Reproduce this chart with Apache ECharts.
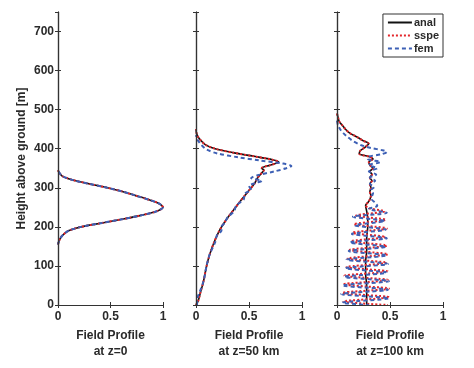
<!DOCTYPE html>
<html><head><meta charset="utf-8">
<script src="https://cdn.jsdelivr.net/npm/echarts@6/dist/echarts.min.js"></script>
<style>html,body{margin:0;padding:0;background:#fff}#c{width:474px;height:368px}</style>
</head><body><div id="c"></div>
<script>
// ---- data ----
const yTicks = [0,100,200,300,400,500,600,700];
const xTicks = [0,0.5,1];
const panelTitles = ['Field Profile\nat z=0','Field Profile\nat z=50 km','Field Profile\nat z=100 km'];
const seriesNames = ['anal','sspe','fem'];

// panel 1 (z=0)
const p1H    = [155,160,170,180,190,200,210,220,230,240,250,260,270,280,290,300,310,320,330,340,345];
const p1Anal = [0,0.005,0.02,0.05,0.1,0.22,0.42,0.62,0.8,0.94,1.0,0.96,0.86,0.74,0.62,0.47,0.3,0.14,0.04,0.01,0];
const p1Sspe = [0,0.005,0.02,0.05,0.1,0.22,0.42,0.62,0.8,0.94,1.0,0.96,0.86,0.74,0.62,0.47,0.3,0.14,0.04,0.01,0];
const p1Fem  = [0,0.005,0.02,0.05,0.1,0.22,0.42,0.62,0.8,0.94,1.0,0.96,0.86,0.74,0.62,0.47,0.3,0.14,0.04,0.01,0];

// panel 2 (z=50 km)
const p2H    = [0,10,30,60,100,130,160,190,220,245,270,290,310,325,338,345,350,358,366,372,380,390,400,410,420,430,440,450];
const p2Anal = [0,0.02,0.04,0.07,0.1,0.13,0.17,0.22,0.29,0.36,0.43,0.49,0.55,0.58,0.62,0.64,0.62,0.7,0.78,0.72,0.56,0.35,0.18,0.09,0.05,0.02,0.005,0];
const p2Sspe = [0,0.02,0.04,0.07,0.1,0.13,0.17,0.22,0.29,0.36,0.43,0.49,0.55,0.58,0.62,0.64,0.62,0.7,0.78,0.72,0.56,0.35,0.18,0.09,0.05,0.02,0.005,0];
const p2FemH = [0,15,30,60,100,130,160,180,190,200,210,225,240,255,270,285,295,305,312,318,325,332,342,350,356,362,370,378,388,398,410,425,435];
const p2Fem  = [0.01,0.01,0.03,0.07,0.1,0.13,0.18,0.2,0.24,0.24,0.27,0.3,0.36,0.38,0.45,0.46,0.52,0.5,0.56,0.62,0.52,0.58,0.74,0.85,0.9,0.82,0.6,0.4,0.2,0.1,0.05,0.01,0];

// panel 3 (z=100 km)
const p3AnalH = [490,480,470,460,450,440,430,420,413,405,395,387,380,374,366,358,350,342,334,326,318,310,300,290,280,270,262,255,240,220,200,170,140,110,80,50,20,0];
const p3Anal  = [0,0.01,0.02,0.05,0.08,0.12,0.19,0.25,0.3,0.27,0.22,0.21,0.3,0.34,0.3,0.31,0.34,0.31,0.33,0.31,0.33,0.31,0.32,0.31,0.32,0.31,0.29,0.27,0.28,0.29,0.29,0.28,0.28,0.27,0.27,0.28,0.28,0.28];
const p3SspeH = [490,480,470,460,450,440,430,420,413,405,395,387,380,374,366,358,350,342,334,326,318,310,300,290,280,270,262,255,248,240,229,218,207,196,185,174,163,152,141,130,119,108,97,86,75,64,53,42,31,20,9,0];
const p3Sspe  = [0,0.01,0.02,0.05,0.08,0.12,0.19,0.25,0.3,0.27,0.22,0.21,0.3,0.34,0.3,0.31,0.34,0.31,0.33,0.31,0.33,0.31,0.32,0.31,0.32,0.31,0.29,0.27,0.3,0.45,0.18,0.46,0.16,0.47,0.15,0.46,0.13,0.47,0.12,0.48,0.1,0.47,0.09,0.48,0.07,0.48,0.06,0.49,0.05,0.49,0.06,0.48];
const p3FemH  = [472,460,450,440,430,420,410,402,396,392,386,380,374,366,358,350,342,334,326,318,310,302,294,286,278,270,262,254,246,236,226,215,204,193,182,171,160,149,138,127,116,105,94,83,72,61,50,39,28,17,6,0];
const p3Fem   = [0,0.01,0.03,0.06,0.1,0.15,0.22,0.32,0.43,0.47,0.42,0.3,0.29,0.41,0.3,0.38,0.3,0.37,0.31,0.36,0.31,0.35,0.32,0.34,0.33,0.33,0.36,0.38,0.3,0.47,0.15,0.45,0.17,0.46,0.14,0.47,0.12,0.46,0.11,0.47,0.09,0.48,0.08,0.47,0.07,0.49,0.05,0.48,0.04,0.49,0.05,0.3];

// ---- build ----
const zip = (h, v) => h.map((y, i) => [v[i], y]);
const panels = [
  [zip(p1H,p1Anal), zip(p1H,p1Sspe), zip(p1H,p1Fem)],
  [zip(p2H,p2Anal), zip(p2H,p2Sspe), zip(p2FemH,p2Fem)],
  [zip(p3AnalH,p3Anal), zip(p3SspeH,p3Sspe), zip(p3FemH,p3Fem)]
];
const TXT = '#2a2a2a';
const FONT = 'Liberation Sans, Arial, sans-serif';
const grids = [
  {left:58, top:12, width:105, height:293},
  {left:196, top:12, width:106, height:293},
  {left:337, top:12, width:106, height:293}
];
const axisLine = {show:true, lineStyle:{color:'#333', width:1.2}};
const xAxes = [], yAxes = [], series = [];
const styles = [
  {color:'#111', width:1.6, type:'solid'},
  {color:'#e3262b', width:2, type:[2,2]},
  {color:'#3d60b5', width:2, type:[4,3]}
];
grids.forEach((g, i) => {
  xAxes.push({type:'value', gridIndex:i, min:xTicks[0], max:xTicks[xTicks.length-1], interval:0.5, position:'bottom', z:10,
    axisLine, axisTick:{inside:true, length:3, lineStyle:{color:'#333'}}, splitLine:{show:false},
    axisLabel:{color:TXT, fontSize:12, fontWeight:'bold', fontFamily:FONT, margin:6,
      formatter: v => String(v)},
    name: panelTitles[i], nameLocation:'middle', nameGap:17,
    nameTextStyle:{color:TXT, fontSize:12, fontWeight:'bold', fontFamily:FONT, lineHeight:16}
  });
  xAxes.push({type:'value', gridIndex:i, min:0, max:1, interval:0.5, position:'top', z:10,
    axisLine, axisTick:{inside:true, length:3, lineStyle:{color:'#333'}}, axisLabel:{show:false}, splitLine:{show:false}});
  yAxes.push({type:'value', gridIndex:i, min:0, max:750, interval:100, position:'left', z:10,
    axisLine, axisTick:{inside:true, length:3, lineStyle:{color:'#333'}}, splitLine:{show:false},
    axisLabel:{show:i===0, showMaxLabel:false, color:TXT, fontSize:12, fontWeight:'bold', fontFamily:FONT, margin:4},
    name: i===0 ? 'Height above ground [m]' : '', nameLocation:'middle', nameGap:30,
    nameTextStyle:{color:TXT, fontSize:12, fontWeight:'bold', fontFamily:FONT}
  });
  yAxes.push({type:'value', gridIndex:i, min:0, max:750, interval:100, position:'right', z:10,
    axisLine, axisTick:{inside:true, length:3, lineStyle:{color:'#333'}}, axisLabel:{show:false}, splitLine:{show:false}});
  panels[i].forEach((d, k) => {
    series.push({name:seriesNames[k], type:'line', xAxisIndex:2*i, yAxisIndex:2*i, data:d,
      symbol:'none', smooth:0.3, lineStyle:styles[k], itemStyle:{color:styles[k].color}, z:2+k});
  });
});
const chart = echarts.init(document.getElementById('c'), null, {renderer:'canvas'});
chart.setOption({
  animation:false,
  backgroundColor:'#fff',
  grid: grids,
  xAxis: xAxes,
  yAxis: yAxes,
  legend:{data:seriesNames, orient:'vertical', right:31, top:14, itemWidth:24, itemHeight:8, itemGap:2,
    padding:[3,4,3,4], borderColor:'#333', borderWidth:1, backgroundColor:'#fff',
    itemStyle:{opacity:0},
    textStyle:{color:TXT, fontSize:11, fontWeight:'bold', fontFamily:FONT, padding:[0,0,0,-3]}},
  series
});
</script></body></html>
